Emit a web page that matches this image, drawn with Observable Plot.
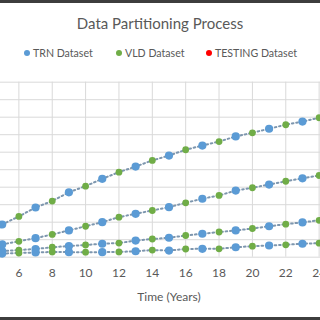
<!DOCTYPE html>
<html>
<head>
<meta charset="utf-8">
<script src="https://cdn.jsdelivr.net/npm/d3@7"></script>
<script src="https://cdn.jsdelivr.net/npm/@observablehq/plot@0.6"></script>
<style>
  html, body { margin: 0; padding: 0; background: #fff; }
  #page { position: relative; width: 320px; height: 320px; overflow: hidden; background: #fff; font-family: Lato, "Open Sans", sans-serif; color: #595959; }
  .bar { position: absolute; left: 0; width: 320px; background: #3d3d3d; }
  #title { position: absolute; top: 14px; left: 0; width: 320px; text-align: center; font-size: 15px; }
  #legend { position: absolute; top: 47px; left: 0; width: 320px; font-size: 10.6px; }
  #legend span.item { position: absolute; white-space: nowrap; }
  #legend i { display: inline-block; width: 6px; height: 6px; border-radius: 50%; margin-right: 3px; vertical-align: 1px; }
  #chart { position: absolute; top: 70px; left: -15.4px; width: 367px; }
  #chart svg { max-width: none; }
</style>
</head>
<body>
<div id="page">
  <div class="bar" style="top:0;height:3px"></div>
  <div id="title">Data Partitioning Process</div>
  <div id="legend"></div>
  <div id="chart"></div>
  <div class="bar" style="top:317px;height:3px"></div>
</div>
<script>
// Years sampled along each partitioning curve
const years = [5, 6, 7, 8, 9, 10, 11, 12, 13, 14, 15, 16, 17, 18, 19, 20, 21, 22, 23, 24];

// Four growth curves; odd years belong to TRN, even years to VLD
const curveA = [18.7, 23.3, 28.4, 32.1, 37.1, 40.6, 44.8, 48.6, 51.8, 55.3, 58.1, 61.4, 63.8, 66.1, 69.0, 71.1, 73.4, 75.7, 77.5, 79.7];
const curveB = [7.3, 9.1, 10.9, 13.0, 15.3, 17.7, 20.0, 22.9, 24.8, 26.7, 28.6, 31.1, 33.4, 35.3, 38.1, 39.7, 41.5, 43.4, 45.1, 46.7];
const curveC = [3.5, 4.1, 4.7, 5.7, 6.4, 7.0, 7.7, 8.1, 9.5, 10.4, 11.1, 12.4, 13.4, 14.4, 15.3, 16.4, 17.7, 18.9, 19.9, 21.1];
const curveD = [2.1, 2.4, 2.7, 3.0, 2.9, 2.9, 2.9, 3.0, 3.4, 4.1, 3.8, 4.7, 4.8, 4.8, 5.7, 6.3, 6.7, 7.1, 7.7, 8.0];

const seriesNames = ["TRN Dataset", "VLD Dataset", "TESTING Dataset"];
const seriesColors = ["#5b9bd5", "#70ad47", "#ff0000"];
const connectorColor = "#7d96ae";

const xTicks = [6, 8, 10, 12, 14, 16, 18, 20, 22, 24];
const yTicks = [0, 10, 20, 30, 40, 50, 60, 70, 80, 90, 100];

// Long table: one row per point
const curves = {A: curveA, B: curveB, C: curveC, D: curveD};
const rows = [];
for (const [name, vals] of Object.entries(curves)) {
  years.forEach((yr, i) => {
    rows.push({curve: name, year: yr, value: vals[i], series: yr % 2 ? seriesNames[0] : seriesNames[1]});
  });
}
const trn = rows.filter(d => d.series === seriesNames[0]);
const vld = rows.filter(d => d.series === seriesNames[1]);

// Legend
const legend = document.getElementById("legend");
const legendLeft = [24, 116, 206];
seriesNames.forEach((s, i) => {
  const el = document.createElement("span");
  el.className = "item";
  el.style.left = legendLeft[i] + "px";
  el.innerHTML = `<i style="background:${seriesColors[i]}"></i>${s}`;
  legend.appendChild(el);
});

const chart = Plot.plot({
  width: 367,
  height: 247,
  marginLeft: 0,
  marginRight: 0,
  marginTop: 11.7,
  marginBottom: 60.3,
  style: {fontFamily: "Lato, 'Open Sans', sans-serif", fontSize: "12px", color: "#595959", background: "transparent"},
  x: {domain: [4, 26]},
  y: {domain: [0, 100], axis: null},
  marks: [
    Plot.gridX([4, ...xTicks, 26], {stroke: "#d9d9d9", strokeOpacity: 1, strokeWidth: 1}),
    Plot.gridY(yTicks, {stroke: "#d9d9d9", strokeOpacity: 1, strokeWidth: 1}),
    Plot.axisX(xTicks, {tickSize: 0, tickPadding: 11, label: "Time (Years)", labelAnchor: "center", labelArrow: "none", labelOffset: 44, fontSize: 12}),
    // dotted connector through each curve
    Plot.line(rows, {x: "year", y: "value", z: "curve", stroke: connectorColor, strokeWidth: 2, strokeDasharray: "1.6 2.8", strokeLinecap: "round"}),
    Plot.dot(vld, {x: "year", y: "value", r: 3.4, fill: seriesColors[1]}),
    Plot.dot(trn, {x: "year", y: "value", r: 4.1, fill: seriesColors[0]})
  ]
});
document.getElementById("chart").appendChild(chart);
</script>
</body>
</html>
